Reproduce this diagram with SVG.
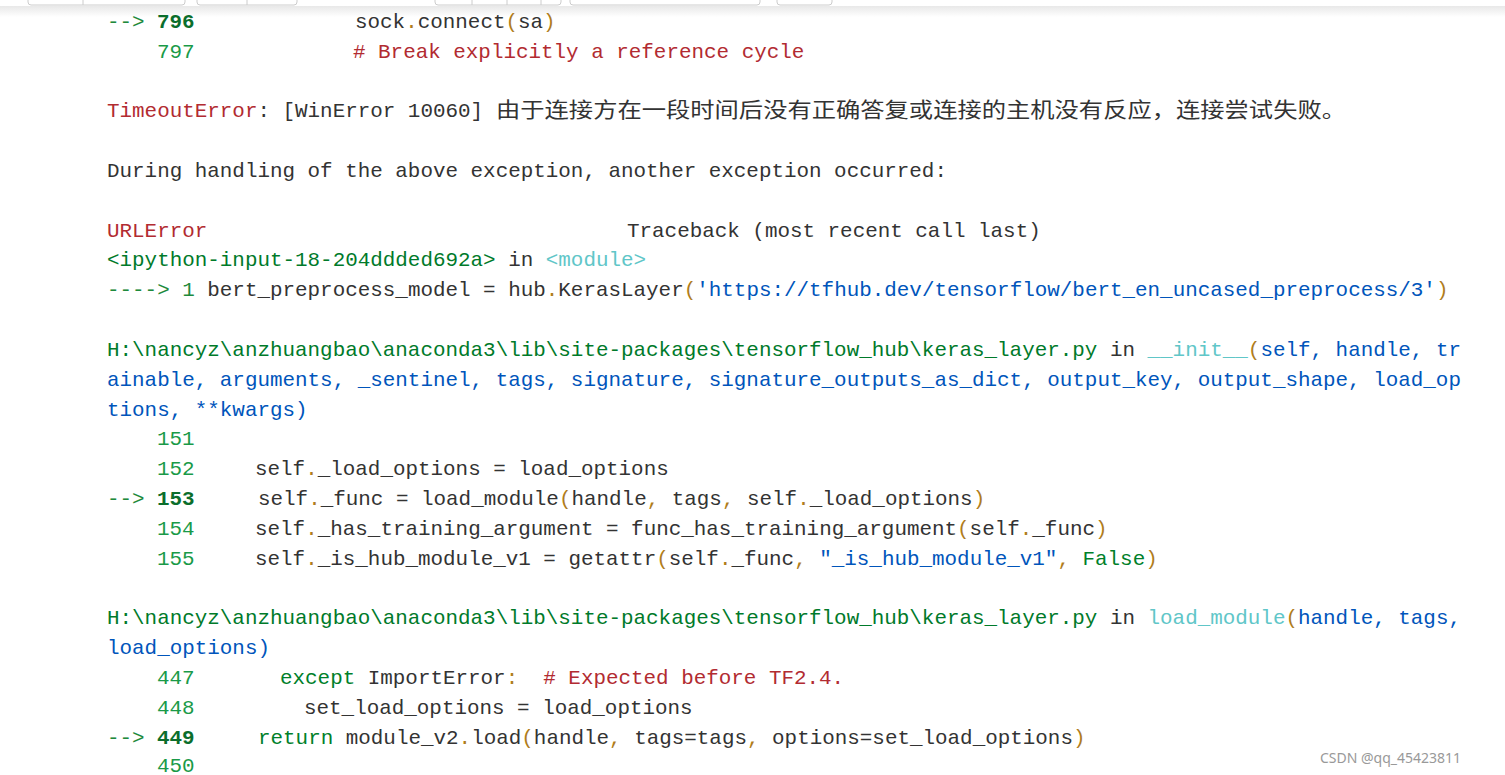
<svg xmlns="http://www.w3.org/2000/svg" width="1505" height="775" viewBox="0 0 1505 775">
<style>
text{font-family:"Liberation Mono","Noto Sans CJK SC",monospace;font-size:20.9px;fill:#333;white-space:pre}
.g{fill:#1a9a48}.gd{fill:#0b6e2c;font-weight:bold}.ga{fill:#1e8a3c}.p{fill:#007a2a}
.r{fill:#b22b31}.b{fill:#0055bb}.c{fill:#60c6c8}.o{fill:#b07d1c}.k{fill:#00802a}
.tb{fill:#fff;stroke:#ccc;stroke-width:1}
</style>
<defs><linearGradient id="sh" x1="0" y1="0" x2="0" y2="1"><stop offset="0" stop-color="#e6e6e6"/><stop offset="1" stop-color="#fff"/></linearGradient></defs>
<rect width="1505" height="775" fill="#fff"/>
<g id="toolbar">
<rect x="0" y="5" width="1505" height="12" fill="url(#sh)"/>
<rect x="0" y="0" width="1505" height="6" fill="#fff"/>
<rect class="tb" x="28" y="-6" width="157" height="11" rx="3"/>
<line x1="83" y1="0" x2="83" y2="5" stroke="#ccc"/>
<rect class="tb" x="197" y="-6" width="100" height="11" rx="3"/>
<line x1="247" y1="0" x2="247" y2="5" stroke="#ccc"/>
<rect class="tb" x="435" y="-6" width="126" height="11" rx="3"/>
<line x1="472" y1="0" x2="472" y2="5" stroke="#ccc"/><line x1="507" y1="0" x2="507" y2="5" stroke="#ccc"/><line x1="541" y1="0" x2="541" y2="5" stroke="#ccc"/>
<rect class="tb" x="570" y="-6" width="190" height="11" rx="3"/>
<rect class="tb" x="777" y="-6" width="55" height="11" rx="3"/>
</g>
<g id="traceback">
<text x="107" y="28"><tspan class="ga">--&gt;</tspan><tspan x="157" class="gd">796</tspan><tspan x="355">sock<tspan class="o">.</tspan>connect<tspan class="o">(</tspan>sa<tspan class="o">)</tspan></tspan></text>
<text x="157" y="58" class="g">797</text>
<text x="353" y="58" class="r"># Break explicitly a reference cycle</text>
<text x="107" y="117"><tspan class="r">TimeoutError</tspan>: [WinError 10060]</text>
<text x="496" y="117" textLength="850" lengthAdjust="spacingAndGlyphs">由于连接方在一段时间后没有正确答复或连接的主机没有反应，连接尝试失败。</text>
<text x="107" y="177">During handling of the above exception, another exception occurred:</text>
<text x="107" y="237" class="r">URLError</text>
<text x="627" y="237">Traceback (most recent call last)</text>
<text x="107" y="266"><tspan class="p">&lt;ipython-input-18-204ddded692a&gt;</tspan> in <tspan class="c">&lt;module&gt;</tspan></text>
<text x="107" y="296"><tspan class="ga">----&gt; 1 </tspan>bert_preprocess_model = hub<tspan class="o">.</tspan>KerasLayer<tspan class="o">(</tspan><tspan class="b">'https://tfhub.dev/tensorflow/bert_en_uncased_preprocess/3'</tspan><tspan class="o">)</tspan></text>
<text x="107" y="356"><tspan class="p">H:\nancyz\anzhuangbao\anaconda3\lib\site-packages\tensorflow_hub\keras_layer.py</tspan> in <tspan class="c">__init__</tspan><tspan class="o">(</tspan><tspan class="b">self, handle, tr</tspan></text>
<text x="107" y="386" class="b">ainable, arguments, _sentinel, tags, signature, signature_outputs_as_dict, output_key, output_shape, load_op</text>
<text x="107" y="416" class="b">tions, **kwargs)</text>
<text x="157" y="445" class="g">151</text>
<text x="157" y="475" class="g">152</text>
<text x="255" y="475">self<tspan class="o">.</tspan>_load_options = load_options</text>
<text x="107" y="505"><tspan class="ga">--&gt;</tspan><tspan x="157" class="gd">153</tspan></text>
<text x="258" y="505">self<tspan class="o">.</tspan>_func = load_module<tspan class="o">(</tspan>handle<tspan class="o">,</tspan> tags<tspan class="o">,</tspan> self<tspan class="o">.</tspan>_load_options<tspan class="o">)</tspan></text>
<text x="157" y="535" class="g">154</text>
<text x="255" y="535">self<tspan class="o">.</tspan>_has_training_argument = func_has_training_argument<tspan class="o">(</tspan>self<tspan class="o">.</tspan>_func<tspan class="o">)</tspan></text>
<text x="157" y="565" class="g">155</text>
<text x="255" y="565">self<tspan class="o">.</tspan>_is_hub_module_v1 = getattr<tspan class="o">(</tspan>self<tspan class="o">.</tspan>_func<tspan class="o">,</tspan> <tspan class="b">"_is_hub_module_v1"</tspan><tspan class="o">,</tspan> <tspan class="k">False</tspan><tspan class="o">)</tspan></text>
<text x="107" y="624"><tspan class="p">H:\nancyz\anzhuangbao\anaconda3\lib\site-packages\tensorflow_hub\keras_layer.py</tspan> in <tspan class="c">load_module</tspan><tspan class="o">(</tspan><tspan class="b">handle, tags,</tspan></text>
<text x="107" y="654" class="b">load_options)</text>
<text x="157" y="684" class="g">447</text>
<text x="280" y="684"><tspan class="k">except</tspan> ImportError<tspan class="o">:</tspan>  <tspan class="r"># Expected before TF2.4.</tspan></text>
<text x="157" y="714" class="g">448</text>
<text x="304" y="714">set_load_options = load_options</text>
<text x="107" y="744"><tspan class="ga">--&gt;</tspan><tspan x="157" class="gd">449</tspan></text>
<text x="258" y="744"><tspan class="k">return</tspan> module_v2<tspan class="o">.</tspan>load<tspan class="o">(</tspan>handle<tspan class="o">,</tspan> tags=tags<tspan class="o">,</tspan> options=set_load_options<tspan class="o">)</tspan></text>
<text x="157" y="772" class="g">450</text>
</g>
<text x="1320" y="763" style="font-family:'Noto Sans',sans-serif;font-size:14px;fill:#999">CSDN @qq_45423811</text>
</svg>
